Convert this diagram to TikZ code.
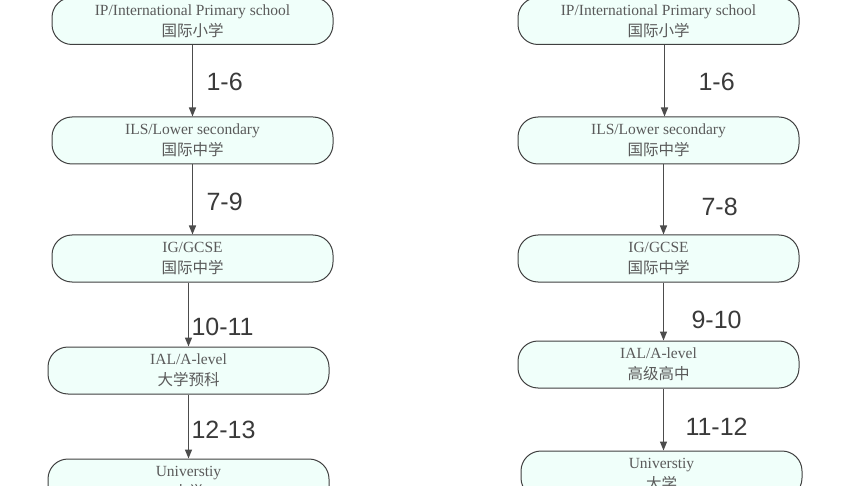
\documentclass[tikz,border=0pt]{standalone}
\usepackage{fontspec}
\setmainfont{Liberation Serif}
\newfontfamily\cjk{Noto Sans CJK SC}
\newfontfamily\lblfont{Liberation Sans}
\usetikzlibrary{arrows.meta}
\definecolor{boxfill}{HTML}{F0FFFA}
\definecolor{boxtext}{HTML}{5A5A5A}
\definecolor{lbltext}{HTML}{3A3A3A}
\tikzset{
  stage/.style={draw=black!75, line width=1pt, fill=boxfill, rounded corners=20pt,
    minimum width=281pt, minimum height=47pt, align=center, text=boxtext,
    font=\fontsize{15.5}{21}\selectfont, inner sep=0pt},
  flow/.style={draw=black!70, line width=1.3pt, -{Triangle[length=9pt,width=7pt]}},
  age/.style={text=lbltext, font=\lblfont\fontsize{25}{25}\selectfont, anchor=west}
}
\begin{document}
\begin{tikzpicture}[x=1pt,y=-1pt]
  \useasboundingbox (0,0) rectangle (864,486);
  % left column
  \node[stage] (l1) at (192.5,21)  {IP/International Primary school\\{\cjk 国际小学}};
  \node[stage] (l2) at (192.5,140.5) {ILS/Lower secondary\\{\cjk 国际中学}};
  \node[stage] (l3) at (192.5,258.5) {IG/GCSE\\{\cjk 国际中学}};
  \node[stage] (l4) at (188.5,370.5) {IAL/A-level\\{\cjk 大学预科}};
  \node[stage] (l5) at (188.5,482.5) {Universtiy\\{\cjk 大学}};
  % right column
  \node[stage] (r1) at (658.5,21)  {IP/International Primary school\\{\cjk 国际小学}};
  \node[stage] (r2) at (658.5,140.5) {ILS/Lower secondary\\{\cjk 国际中学}};
  \node[stage] (r3) at (658.5,258.5) {IG/GCSE\\{\cjk 国际中学}};
  \node[stage] (r4) at (658.5,364.5) {IAL/A-level\\{\cjk 高级高中}};
  \node[stage] (r5) at (661.5,474.5) {Universtiy\\{\cjk 大学}};
  % arrows with ages
  \draw[flow] (l1.south) -- (l2.north);
  \draw[flow] (l2.south) -- (l3.north);
  \draw[flow] (l3.south -| l4.north) -- (l4.north);
  \draw[flow] (l4.south) -- (l5.north);
  \draw[flow] ([xshift=6pt]r1.south) -- ([xshift=6pt]r2.north);
  \draw[flow] ([xshift=5pt]r2.south) -- ([xshift=5pt]r3.north);
  \draw[flow] ([xshift=5pt]r3.south) -- ([xshift=5pt]r4.north);
  \draw[flow] ([xshift=5pt]r4.south) -- ([xshift=5pt]r4.south |- r5.north);
  \node[age] (a1) at (203,82)  {1-6};
  \node[age] (a2) at (203,202) {7-9};
  \node[age] (a3) at (188,327) {10-11};
  \node[age] (a4) at (188,430) {12-13};
  \node[age] (b1) at (695,82)  {1-6};
  \node[age] (b2) at (698,207) {7-8};
  \node[age] (b3) at (688,320) {9-10};
  \node[age] (b4) at (682,427) {11-12};
\end{tikzpicture}
\end{document}
